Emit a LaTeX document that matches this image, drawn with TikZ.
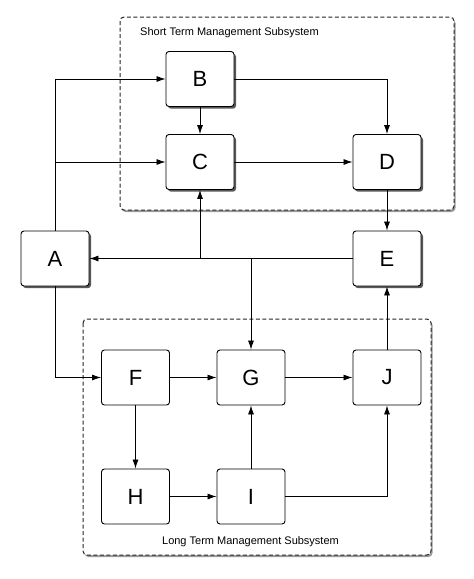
\documentclass[tikz,border=0pt]{standalone}
\usepackage{fontspec}
\setmainfont{Liberation Sans}
\usetikzlibrary{shadows,arrows.meta}
\begin{document}
\begin{tikzpicture}[x=1pt,y=-1pt,
  blk/.style={draw, line width=0.9pt, rounded corners=3pt, minimum width=68pt, minimum height=55pt, fill=white, inner sep=0pt, font=\fontsize{22}{24}\selectfont},
  shd/.style={drop shadow={shadow xshift=2pt, shadow yshift=-2.2pt, opacity=0.65, fill=black}},
  grp/.style={draw=black!85, line width=1pt, dash pattern=on 4pt off 2.5pt, rounded corners=4pt, fill=white},
  grpshd/.style={drop shadow={shadow xshift=1.5pt, shadow yshift=-2pt, opacity=0.4, fill=black}},
  lbl/.style={font=\fontsize{11}{13}\selectfont, inner sep=0pt},
  arr/.style={-{Latex[length=9pt,width=6pt]}, line width=0.8pt}]
\useasboundingbox (0,0) rectangle (474,579);
% group containers
\path[grp, grpshd] (120,17) rectangle (454,210);
\path[grp, grpshd] (83,319) rectangle (431,555);
\node[lbl, anchor=west] (stm) at (140,33) {Short Term Management Subsystem};
\node[lbl] (ltm) at (250.5,542) {Long Term Management Subsystem};
% blocks
\node[blk, shd] (B) at (200,79) {B};
\node[blk, shd] (C) at (200,162) {C};
\node[blk, shd] (D) at (387,162) {D};
\node[blk, shd] (A) at (55,258.5) {A};
\node[blk, shd] (E) at (387,258.5) {E};
\node[blk] (F) at (135.5,377.5) {F};
\node[blk] (G) at (251,377.5) {G};
\node[blk] (J) at (387,377.5) {J};
\node[blk] (H) at (135.5,496.5) {H};
\node[blk] (I) at (251,496.5) {I};
% connectors
\draw[arr] (A.north) |- (B.west);
\draw[arr] (A.north |- C.west) -- (C.west);
\draw[arr] (B) -- (C);
\draw[arr] (B.east) -| (D.north);
\draw[arr] (C) -- (D);
\draw[arr] (D) -- (E);
\draw[arr] (E.west) -- (A.east);
\draw[arr] (C.south |- E.west) -- (C.south);
\draw[arr] (G.north |- E.west) -- (G.north);
\draw[arr] (A.south) |- (F.west);
\draw[arr] (F) -- (G);
\draw[arr] (G) -- (J);
\draw[arr] (F) -- (H);
\draw[arr] (H) -- (I);
\draw[arr] (I) -- (G);
\draw[arr] (I.east) -| (J.south);
\draw[arr] (J) -- (E);
\end{tikzpicture}
\end{document}
